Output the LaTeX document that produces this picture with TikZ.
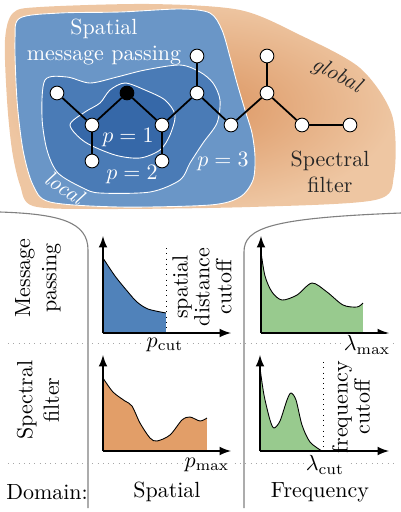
\documentclass[tikz,border=0pt]{standalone}
\usepackage{amsmath}
\usepackage{tikz}
\usetikzlibrary{arrows}

\definecolor{peach}{RGB}{238,198,162}
\definecolor{peachdark}{RGB}{220,150,98}
\definecolor{blueA}{RGB}{106,150,199}
\definecolor{blueB}{RGB}{74,123,182}
\definecolor{blueC}{RGB}{54,104,168}
\definecolor{fillblue}{RGB}{80,130,186}
\definecolor{fillorange}{RGB}{226,158,104}
\definecolor{fillgreen}{RGB}{152,202,142}
\definecolor{sepgray}{RGB}{128,128,128}

\begin{document}
\begin{tikzpicture}[x=0.16mm,y=-0.16mm,
	vertex/.style={circle,draw=black,fill=white,thin,minimum size=2.2mm,inner sep=0pt},
	axis/.style={->,>=latex,thick},
	region/.style={draw=white,line width=0.4pt},
	guide/.style={dotted,black!35},
	sep/.style={draw=sepgray,line width=0.5pt}]

	\useasboundingbox (0,0) rectangle (401,512);

	% graph with the two kinds of neighbourhood
	\shade[inner color=peachdark, outer color=peach] plot[smooth cycle] coordinates {(13,13) (40,7) (150,4) (240,10) (300,35) (360,68) (392,115) (394,175) (375,200) (250,207) (100,209) (33,206) (20,185) (12,150) (7,100) (5,40)};
	\filldraw[region,fill=blueA] plot[smooth cycle] coordinates {(20,18) (60,13) (120,12) (180,9) (210,13) (222,30) (230,57) (237,83) (245,110) (252,133) (255,157) (253,180) (240,197) (210,205) (120,207) (50,202) (33,185) (23,150) (17,100) (15,40)};
	\filldraw[region,fill=blueB] plot[smooth cycle] coordinates {(45,80) (67,77) (90,83) (117,77) (145,70) (180,65) (200,72) (213,83) (220,100) (217,123) (203,143) (190,163) (180,180) (150,192) (100,193) (83,188) (58,173) (47,150) (42,117)};
	\filldraw[region,fill=blueC] plot[smooth cycle] coordinates {(70,125) (85,112) (100,103) (110,90) (125,83) (145,90) (165,100) (175,115) (170,135) (160,150) (140,158) (115,155) (85,142)};

	\node (V1) [vertex] at (57,93) {};
	\node (V2) [vertex,fill=black] at (127,93) {};
	\node (V3) [vertex] at (92,125) {};
	\node (V4) [vertex] at (162,125) {};
	\node (V5) [vertex] at (92,161) {};
	\node (V6) [vertex] at (162,161) {};
	\node (V7) [vertex] at (197,56) {};
	\node (V8) [vertex] at (197,93) {};
	\node (V9) [vertex] at (231,125) {};
	\node (V10) [vertex] at (267,56) {};
	\node (V11) [vertex] at (267,93) {};
	\node (V12) [vertex] at (302,125) {};
	\node (V13) [vertex] at (350,125) {};

	\draw [thick] (V1) -- (V3);
	\draw [thick] (V3) -- (V2);
	\draw [thick] (V2) -- (V4);
	\draw [thick] (V3) -- (V5);
	\draw [thick] (V4) -- (V6);
	\draw [thick] (V4) -- (V8);
	\draw [thick] (V8) -- (V7);
	\draw [thick] (V8) -- (V9);
	\draw [thick] (V9) -- (V11);
	\draw [thick] (V11) -- (V10);
	\draw [thick] (V11) -- (V12);
	\draw [thick] (V12) -- (V13);

	\node (S1) [white,align=center] at (104,42) {Spatial\\message passing};
	\node (S2) [black!85,align=center] at (330,172) {Spectral\\filter};
	\node (P1) [white] at (128,138) {$p=1$};
	\node (P2) [white] at (132,175) {$p=2$};
	\node (P3) [white] at (223,162) {$p=3$};
	\node (G1) [black!85,rotate=-28] at (337,76) {\textit{global}};
	\node (G2) [white,rotate=-33] at (65,188) {\textit{local}};

	% separators
	\draw[sep] (0,212) .. controls (60,214) and (88,222) .. (88,250) -- (88,508);
	\draw[sep] (401,213) .. controls (270,218) and (244,228) .. (244,252) -- (244,508);
	\draw[guide] (8,343) -- (395,343);
	\draw[guide] (8,463) -- (395,463);

	% row and column labels
	\node (R1) [rotate=90,align=center] at (38,278) {Message\\passing};
	\node (R2) [rotate=90,align=center] at (38,400) {Spectral\\filter};
	\node (C0) at (47,492) {Domain:};
	\node (C1) at (167,492) {Spatial};
	\node (C2) at (320,492) {Frequency};

	% message passing, spatial
	\fill[fillblue] (103,333) -- plot[smooth] coordinates {(103,258) (115,276) (128,292) (137,302) (148,309) (166,313)} -- (166,333) -- cycle;
	\draw plot[smooth] coordinates {(103,258) (115,276) (128,292) (137,302) (148,309) (166,313)};
	\coordinate (O1) at (103,333);
	\coordinate (X1) at (231,333);
	\coordinate (Y1) at (103,236);
	\coordinate (K1) at (166,248);
	\coordinate (K1b) at (166,333);
	\draw[dotted] (K1) -- (K1b);
	\draw[axis] (O1) -- (X1);
	\draw[axis] (O1) -- (Y1);
	\node (L1) [rotate=90,align=center] at (202,287) {spatial\\[-2pt]distance\\[-2pt]cutoff};
	\node (T1) [fill=white,inner sep=1pt] at (165,345) {$p_{\text{cut}}$};

	% message passing, frequency
	\fill[fillgreen] (261,333) -- plot[smooth] coordinates {(261,252) (265,276) (272,292) (282,300) (297,295) (312,283) (327,292) (343,305) (357,307) (363,303)} -- (363,333) -- cycle;
	\draw plot[smooth] coordinates {(261,252) (265,276) (272,292) (282,300) (297,295) (312,283) (327,292) (343,305) (357,307) (363,303)};
	\coordinate (O2) at (261,333);
	\coordinate (X2) at (389,333);
	\coordinate (Y2) at (261,236);
	\draw[axis] (O2) -- (X2);
	\draw[axis] (O2) -- (Y2);
	\node (T2) [fill=white,inner sep=1pt] at (367,345) {$\lambda_{\max}$};

	% spectral filter, spatial
	\fill[fillorange] (103,451) -- plot[smooth] coordinates {(103,378) (113,392) (125,401) (132,406) (140,423) (150,438) (157,441) (170,435) (182,420) (190,417) (200,421) (207,418)} -- (207,451) -- cycle;
	\draw plot[smooth] coordinates {(103,378) (113,392) (125,401) (132,406) (140,423) (150,438) (157,441) (170,435) (182,420) (190,417) (200,421) (207,418)};
	\coordinate (O3) at (103,451);
	\coordinate (X3) at (231,451);
	\coordinate (Y3) at (103,355);
	\draw[axis] (O3) -- (X3);
	\draw[axis] (O3) -- (Y3);
	\node (T3) [fill=white,inner sep=1pt] at (207,465) {$p_{\max}$};

	% spectral filter, frequency
	\fill[fillgreen] (260,451) -- plot[smooth] coordinates {(260,368) (264,395) (270,420) (274,428) (280,421) (287,400) (291,393) (296,400) (302,425) (310,442) (322,451)} -- cycle;
	\draw plot[smooth] coordinates {(260,368) (264,395) (270,420) (274,428) (280,421) (287,400) (291,393) (296,400) (302,425) (310,442) (322,451)};
	\coordinate (O4) at (260,451);
	\coordinate (X4) at (389,451);
	\coordinate (Y4) at (260,355);
	\coordinate (K4) at (323,362);
	\coordinate (K4b) at (323,451);
	\draw[dotted] (K4) -- (K4b);
	\draw[axis] (O4) -- (X4);
	\draw[axis] (O4) -- (Y4);
	\node (L4) [rotate=90,align=center] at (351,407) {frequency\\[-2pt]cutoff};
	\node (T4) [fill=white,inner sep=1pt] at (325,465) {$\lambda_{\text{cut}}$};

\end{tikzpicture}
\end{document}
